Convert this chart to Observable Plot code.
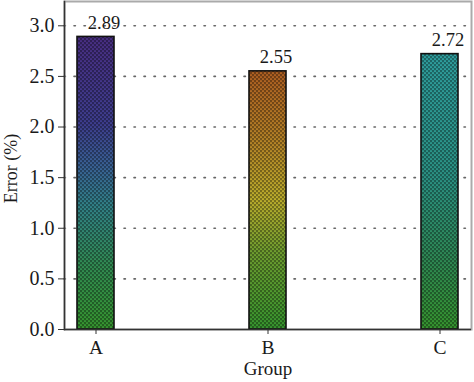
<!DOCTYPE html>
<html>
<head>
<meta charset="utf-8">
<script src="https://cdn.jsdelivr.net/npm/d3@7"></script>
<script src="https://cdn.jsdelivr.net/npm/@observablehq/plot@0.6"></script>
<style>
  html, body { margin: 0; padding: 0; background: #fff; }
  #chart { width: 474px; height: 382px; }
</style>
</head>
<body>
<div id="chart"></div>
<script>
// ---- data ----
const groups = ["A", "B", "C"];
const errors = [2.89, 2.55, 2.72];
const labels = ["2.89", "2.55", "2.72"];
const yTicks = [0, 0.5, 1.0, 1.5, 2.0, 2.5, 3.0];

// ---- styles (gradient stops per bar, top -> bottom) ----
const gradStops = {
  A: [["0%", "#5e3ca8"], ["30%", "#5050b8"], ["45%", "#4a80c0"], ["58%", "#40a8b0"], ["78%", "#40b46c"], ["100%", "#46c03c"]],
  B: [["0%", "#e07a2c"], ["25%", "#e8a432"], ["50%", "#f2e03a"], ["70%", "#90cc3e"], ["100%", "#46c03c"]],
  C: [["0%", "#3ccccc"], ["45%", "#38bcaa"], ["75%", "#3cb06c"], ["100%", "#46c03c"]]
};

const data = groups.map((g, i) => ({group: g, value: errors[i], label: labels[i]}));

const font = "'Liberation Serif', 'Times New Roman', serif";

const chart = Plot.plot({
  width: 474,
  height: 382,
  marginLeft: 64,
  marginRight: 3,
  marginTop: 1,
  marginBottom: 53,
  style: {fontFamily: font, fontSize: "19px", color: "#1a1a1a", background: "#fff"},
  x: {domain: groups, paddingInner: 0.786, paddingOuter: 0.076, label: null},
  y: {domain: [0, 3.24], label: null},
  color: {type: "identity"},
  marks: [
    Plot.ruleY(yTicks.slice(1), {stroke: "#666", strokeWidth: 1.6, strokeDasharray: "1.4,8.6", strokeLinecap: "round"}),
    Plot.frame({stroke: "#aaa", strokeWidth: 2}),
    Plot.barY(data, {x: "group", y: "value", fill: d => `url(#grad${d.group})`}),
    Plot.barY(data, {x: "group", y: "value", fill: () => "url(#hatch)", stroke: "#111", strokeWidth: 1.6}),
    Plot.text(data, {x: "group", y: "value", text: "label", dy: -14, dx: 8, fontSize: 18.5, fill: "#1a1a1a"}),
    Plot.axisY({ticks: yTicks, tickFormat: d3.format(".1f"), tickSize: 6, tickPadding: 4, label: null, fontSize: 20, stroke: "#333"}),
    Plot.axisX({tickSize: 5, tickPadding: 6, label: null, fontSize: 19.5, stroke: "#333"}),
    Plot.ruleY([0], {stroke: "#333", strokeWidth: 1.5}),
    Plot.frame({anchor: "left", stroke: "#333", strokeWidth: 1.5}),
    Plot.text(["Error (%)"], {frameAnchor: "left", textAnchor: "middle", rotate: -90, dx: -53, dy: 3, fontSize: 18, fill: "#1a1a1a"}),
    Plot.text(["Group"], {frameAnchor: "bottom", dy: 45, fontSize: 19, fill: "#1a1a1a"})
  ]
});

// ---- SVG defs for gradients and hatch pattern ----
const svg = d3.select(chart.tagName.toLowerCase() === "svg" ? chart : chart.querySelector("svg"));
const defs = svg.insert("defs", ":first-child");
for (const g of groups) {
  const lg = defs.append("linearGradient")
    .attr("id", "grad" + g)
    .attr("x1", 0).attr("y1", 0).attr("x2", 0).attr("y2", 1);
  for (const [off, col] of gradStops[g]) {
    lg.append("stop").attr("offset", off).attr("stop-color", col);
  }
}
const pat = defs.append("pattern")
  .attr("id", "hatch")
  .attr("patternUnits", "userSpaceOnUse")
  .attr("width", 4).attr("height", 4);
pat.append("path")
  .attr("d", "M0,0H4V4H0Z M0.15,1a0.85,0.85 0 1,0 1.7,0a0.85,0.85 0 1,0 -1.7,0 M2.15,3a0.85,0.85 0 1,0 1.7,0a0.85,0.85 0 1,0 -1.7,0")
  .attr("fill", "#000")
  .attr("fill-rule", "evenodd")
  .attr("fill-opacity", 0.5);

document.getElementById("chart").appendChild(chart);
</script>
</body>
</html>
